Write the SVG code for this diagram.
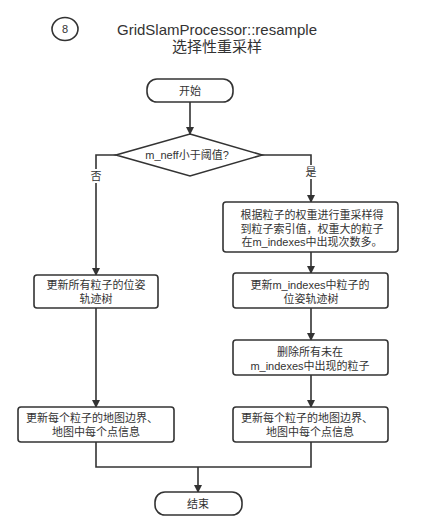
<svg xmlns="http://www.w3.org/2000/svg" width="421" height="528" viewBox="0 0 421 528">
<defs>
<marker id="arr" markerWidth="8" markerHeight="8" refX="7" refY="4" orient="auto" markerUnits="userSpaceOnUse">
<path d="M0,0 L8,4 L0,8 Z" fill="#333"/>
</marker>
<style>
.box{fill:#fff;stroke:#333;stroke-width:1.6}
.ln{fill:none;stroke:#333;stroke-width:1.6}
text{font-family:"Liberation Sans","Noto Sans CJK SC",sans-serif;fill:#333;text-anchor:middle;dominant-baseline:central}
.t{font-size:11px}
.title{font-size:15px}
</style>
</defs>
<rect width="421" height="528" fill="#fff"/>
<g id="badge">
<ellipse cx="65" cy="29" rx="13" ry="11.5" class="box"/>
<text x="65" y="29" class="t">8</text>
</g>
<g id="title">
<text x="217" y="29" class="title">GridSlamProcessor::resample</text>
<text x="217" y="46" class="title">选择性重采样</text>
</g>
<g id="connectors">
<line x1="190" y1="102" x2="190" y2="134" class="ln" marker-end="url(#arr)"/>
<polyline points="116,155 96,155 96,275" class="ln" marker-end="url(#arr)"/>
<polyline points="262,155 311,155 311,202" class="ln" marker-end="url(#arr)"/>
<line x1="96" y1="308" x2="96" y2="407" class="ln" marker-end="url(#arr)"/>
<line x1="311" y1="252" x2="311" y2="273" class="ln" marker-end="url(#arr)"/>
<line x1="311" y1="308" x2="311" y2="340" class="ln" marker-end="url(#arr)"/>
<line x1="311" y1="375" x2="311" y2="407" class="ln" marker-end="url(#arr)"/>
<polyline points="96,442 96,467 311,467 311,442" class="ln"/>
<line x1="198" y1="467" x2="198" y2="492" class="ln" marker-end="url(#arr)"/>
<rect x="90" y="169" width="12" height="14" fill="#fff"/>
<text x="96" y="176" class="t">否</text>
<rect x="305" y="165" width="12" height="14" fill="#fff"/>
<text x="311" y="172" class="t">是</text>
</g>
<g id="start">
<rect x="147" y="79" width="86" height="23" rx="10" class="box"/>
<text x="190" y="91" class="t">开始</text>
</g>
<g id="decision">
<polygon points="190,134 262,155 190,176 116,155" class="box"/>
<text x="187" y="155" class="t">m_neff小于阈值?</text>
</g>
<g id="updateAll">
<rect x="34" y="275" width="124" height="33" rx="3" class="box"/>
<text x="96" y="285" class="t">更新所有粒子的位姿</text>
<text x="96" y="299" class="t">轨迹树</text>
</g>
<g id="mapLeft">
<rect x="18" y="407" width="156" height="35" rx="3" class="box"/>
<text x="92" y="418" class="t">更新每个粒子的地图边界、</text>
<text x="96" y="432" class="t">地图中每个点信息</text>
</g>
<g id="resample">
<rect x="223" y="202" width="175" height="50" rx="3" class="box"/>
<text x="312" y="215" class="t">根据粒子的权重进行重采样得</text>
<text x="312" y="229" class="t">到粒子索引值，权重大的粒子</text>
<text x="312" y="242" class="t">在m_indexes中出现次数多。</text>
</g>
<g id="updateIdx">
<rect x="233" y="273" width="155" height="35" rx="3" class="box"/>
<text x="310" y="285" class="t">更新m_indexes中粒子的</text>
<text x="311" y="299" class="t">位姿轨迹树</text>
</g>
<g id="delete">
<rect x="233" y="340" width="155" height="35" rx="3" class="box"/>
<text x="310" y="352" class="t">删除所有未在</text>
<text x="310" y="366" class="t">m_indexes中出现的粒子</text>
</g>
<g id="mapRight">
<rect x="233" y="407" width="155" height="35" rx="3" class="box"/>
<text x="307" y="418" class="t">更新每个粒子的地图边界、</text>
<text x="310" y="432" class="t">地图中每个点信息</text>
</g>
<g id="end">
<rect x="155" y="492" width="87" height="23" rx="10" class="box"/>
<text x="198" y="504" class="t">结束</text>
</g>
</svg>
